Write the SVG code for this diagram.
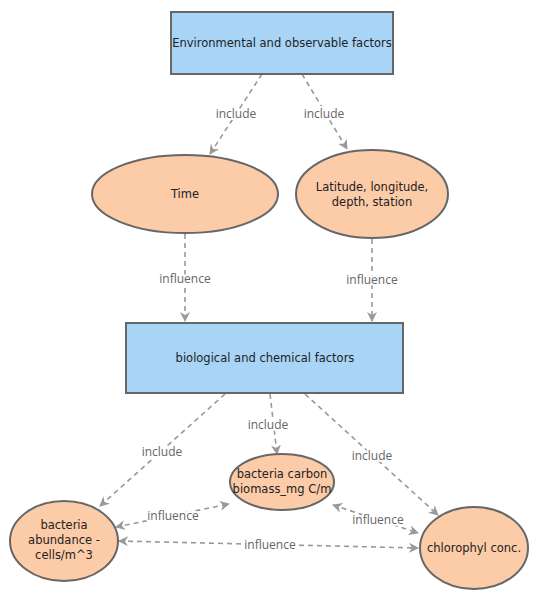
<svg xmlns="http://www.w3.org/2000/svg" width="538" height="600" viewBox="0 0 538 600">
<style>
.rect{fill:#a8d4f6;stroke:#666;stroke-width:2}
.ell{fill:#fccba8;stroke:#666;stroke-width:2}
.nt{font-family:"DejaVu Sans",sans-serif;font-size:11.5px;fill:#222;text-anchor:middle}
.c{fill:none;stroke:#999;stroke-width:1.6;stroke-dasharray:5 4}
.lb{font-family:"Open Sans","DejaVu Sans",sans-serif;font-size:12px;fill:#666;text-anchor:middle;stroke:#fff;stroke-width:4;paint-order:stroke;stroke-linejoin:round}
</style>
<defs>
<marker id="ah" viewBox="0 0 10 10" refX="9" refY="5" markerWidth="10" markerHeight="10" orient="auto-start-reverse" markerUnits="userSpaceOnUse">
<path d="M0,0 L10,5 L0,10 L3,5 Z" fill="#999"/>
</marker>
</defs>
<rect width="538" height="600" fill="#fff"/>
<g id="connectors">
<path class="c" d="M262,74 L210,154" marker-end="url(#ah)"/>
<path class="c" d="M302,74 L347,149" marker-end="url(#ah)"/>
<path class="c" d="M185,234 L185,321" marker-end="url(#ah)"/>
<path class="c" d="M372,239 L372,321" marker-end="url(#ah)"/>
<path class="c" d="M225,394 L100,506" marker-end="url(#ah)"/>
<path class="c" d="M270,394 L277,454" marker-end="url(#ah)"/>
<path class="c" d="M305,394 L438,515" marker-end="url(#ah)"/>
<path class="c" d="M116,527 L229,504" marker-start="url(#ah)" marker-end="url(#ah)"/>
<path class="c" d="M333,505 L418,533" marker-start="url(#ah)" marker-end="url(#ah)"/>
<path class="c" d="M119,541 L418,548" marker-start="url(#ah)" marker-end="url(#ah)"/>
<text class="lb" x="236" y="118">include</text>
<text class="lb" x="324" y="118">include</text>
<text class="lb" x="185" y="283">influence</text>
<text class="lb" x="372" y="284">influence</text>
<text class="lb" x="162" y="456">include</text>
<text class="lb" x="268" y="429">include</text>
<text class="lb" x="372" y="460">include</text>
<text class="lb" x="173" y="520">influence</text>
<text class="lb" x="378" y="524">influence</text>
<text class="lb" x="270" y="549">influence</text>
</g>
<g id="env">
<rect class="rect" x="171" y="12" width="222" height="62"/>
<text class="nt" x="282" y="47">Environmental and observable factors</text>
</g>
<g id="time">
<ellipse class="ell" cx="185" cy="194" rx="93" ry="39"/>
<text class="nt" x="185" y="198">Time</text>
</g>
<g id="lat">
<ellipse class="ell" cx="372" cy="194" rx="76" ry="44"/>
<text class="nt" x="372" y="191">Latitude, longitude,</text>
<text class="nt" x="372" y="206">depth, station</text>
</g>
<g id="bio">
<rect class="rect" x="126" y="323" width="277" height="70"/>
<text class="nt" x="265" y="362">biological and chemical factors</text>
</g>
<g id="carbon">
<ellipse class="ell" cx="282" cy="482" rx="52" ry="28"/>
<text class="nt" x="282" y="478">bacteria carbon</text>
<text class="nt" x="282" y="493">biomass_mg C/m</text>
</g>
<g id="abundance">
<ellipse class="ell" cx="64" cy="541" rx="54" ry="40"/>
<text class="nt" x="64" y="529">bacteria</text>
<text class="nt" x="64" y="544">abundance -</text>
<text class="nt" x="64" y="559">cells/m^3</text>
</g>
<g id="chlorophyl">
<ellipse class="ell" cx="474" cy="548" rx="54" ry="41"/>
<text class="nt" x="474" y="552">chlorophyl conc.</text>
</g>
</svg>
